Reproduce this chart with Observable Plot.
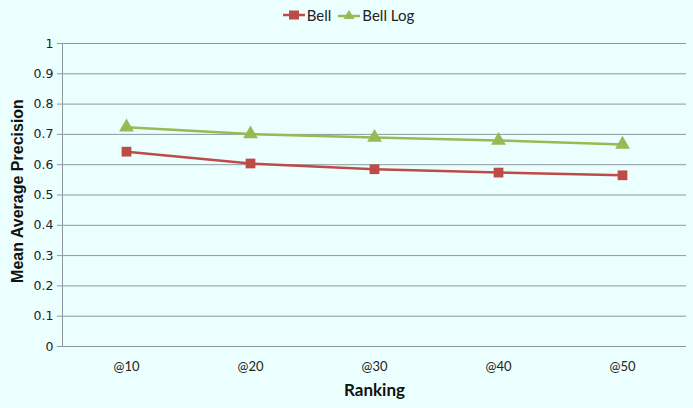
<!DOCTYPE html>
<html>
<head>
<meta charset="utf-8">
<script src="https://cdn.jsdelivr.net/npm/d3@7"></script>
<script src="https://cdn.jsdelivr.net/npm/@observablehq/plot@0.6"></script>
<style>
  html, body { margin: 0; padding: 0; background: #ebffff; }
  #wrap { width: 693px; height: 408px; background: #ebffff; position: relative; overflow: hidden; }
  #legend { height: 30px; display: flex; justify-content: center; align-items: center; gap: 7px;
            font-family: Lato, "Open Sans", sans-serif; font-size: 15px; color: #222; padding-left: 4px; }
  .item { display: flex; align-items: center; gap: 2px; }
</style>
</head>
<body>
<div id="wrap">
  <div id="legend"></div>
  <div id="chart"></div>
</div>
<script>
const categories = ["@10", "@20", "@30", "@40", "@50"];
const bellValues = [0.643, 0.604, 0.585, 0.574, 0.565];
const bellLogValues = [0.724, 0.701, 0.690, 0.680, 0.667];
const seriesNames = ["Bell", "Bell Log"];
const seriesColors = ["#be4b48", "#98b954"];
const seriesSymbols = ["square", "triangle"];
const yTicks = [0, 0.1, 0.2, 0.3, 0.4, 0.5, 0.6, 0.7, 0.8, 0.9, 1];
const yTitle = "Mean Average Precision";
const xTitle = "Ranking";

const data = [];
categories.forEach((c, i) => {
  data.push({rank: c, series: seriesNames[0], value: bellValues[i]});
  data.push({rank: c, series: seriesNames[1], value: bellLogValues[i]});
});

// legend
const legend = document.getElementById("legend");
seriesNames.forEach((name, i) => {
  const item = document.createElement("div");
  item.className = "item";
  const marker = i === 0
    ? `<svg width="22" height="12"><line x1="0" y1="6" x2="22" y2="6" stroke="${seriesColors[i]}" stroke-width="2.5"/><rect x="6" y="1.5" width="10" height="9" fill="${seriesColors[i]}"/></svg>`
    : `<svg width="22" height="12"><line x1="0" y1="7" x2="22" y2="7" stroke="${seriesColors[i]}" stroke-width="2.5"/><path d="M11 1 L16.5 10 L5.5 10 Z" fill="${seriesColors[i]}"/></svg>`;
  item.innerHTML = marker + `<span>${name}</span>`;
  legend.appendChild(item);
});

const chart = Plot.plot({
  width: 693,
  height: 378,
  marginTop: 13,
  marginBottom: 62,
  marginLeft: 62,
  marginRight: 7,
  style: {background: "transparent", overflow: "visible"},
  x: {type: "point", domain: categories, padding: 0.5},
  y: {domain: [0, 1]},
  color: {domain: seriesNames, range: seriesColors},
  symbol: {domain: seriesNames, range: seriesSymbols},
  marks: [
    Plot.ruleY(yTicks, {stroke: "#8c9aa0", strokeWidth: 1}),
    Plot.frame({anchor: "left", stroke: "#8c9aa0"}),
    Plot.axisY({ticks: yTicks, tickSize: 5, tickPadding: 4, tickFormat: d => d3.format("")(d), label: null,
      stroke: "#8c9aa0", fontSize: 12.5, fontFamily: "DejaVu Sans, Verdana, sans-serif", color: "#222"}),
    Plot.axisX({tickSize: 0, tickPadding: 15, label: null, fontSize: 13, fontFamily: "Lato, sans-serif", color: "#222"}),
    Plot.line(data, {x: "rank", y: "value", z: "series", stroke: "series", strokeWidth: 2.5}),
    Plot.dot(data, {x: "rank", y: "value", fill: "series", symbol: "series", r: 5.5, stroke: null}),
    Plot.text([yTitle], {frameAnchor: "left", textAnchor: "middle", rotate: -90, dx: -45, dy: -4, fontSize: 16, fontWeight: "bold",
      fontFamily: "Liberation Sans, Arial, sans-serif", fill: "#111"}),
    Plot.text([xTitle], {frameAnchor: "bottom", dy: 49, fontSize: 17, fontWeight: "bold",
      fontFamily: "Lato, sans-serif", fill: "#111"})
  ]
});
document.getElementById("chart").appendChild(chart);
</script>
</body>
</html>
